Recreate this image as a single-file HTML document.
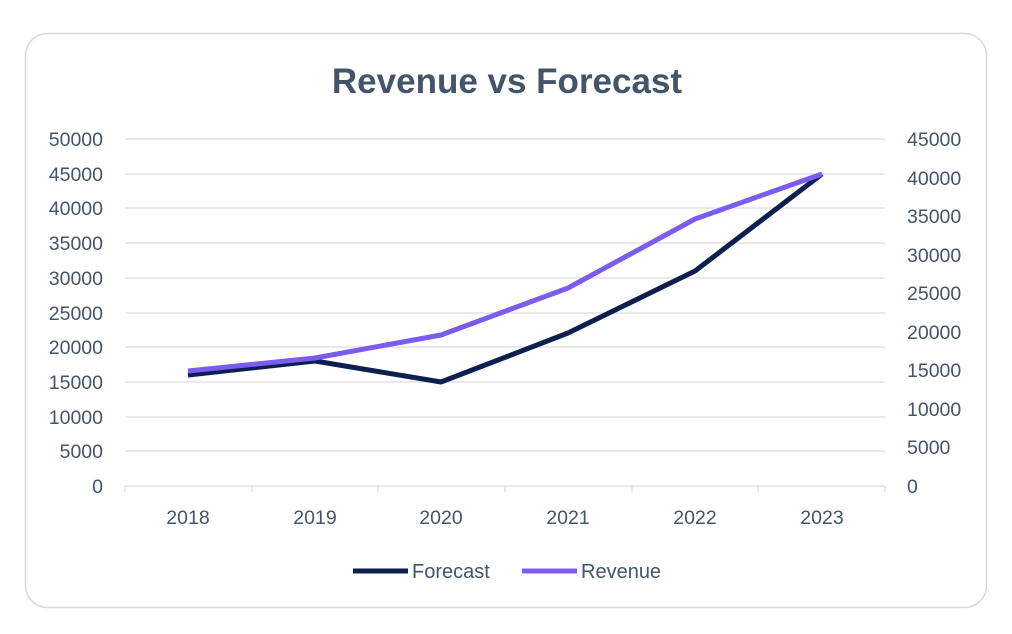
<!DOCTYPE html>
<html><head><meta charset="utf-8"><style>
body{margin:0;background:#fff;}
svg{display:block;font-family:"Liberation Sans",sans-serif;}
</style></head><body>
<svg width="1012" height="634" viewBox="0 0 1012 634" xmlns="http://www.w3.org/2000/svg">
<rect x="0" y="0" width="1012" height="634" fill="#fff"/>
<rect x="25.5" y="33.5" width="961" height="574" rx="22" fill="#fff" stroke="#d9d9d9" stroke-width="1.5"/>
<text x="507" y="93" text-anchor="middle" font-size="35" font-weight="bold" fill="#44546a">Revenue vs Forecast</text>
<g stroke="#d9d9e3" stroke-width="1.2">
<line x1="125" x2="885" y1="139" y2="139"/><line x1="125" x2="885" y1="174" y2="174"/>
<line x1="125" x2="885" y1="208" y2="208"/><line x1="125" x2="885" y1="243" y2="243"/>
<line x1="125" x2="885" y1="278" y2="278"/><line x1="125" x2="885" y1="313" y2="313"/>
<line x1="125" x2="885" y1="347" y2="347"/><line x1="125" x2="885" y1="382" y2="382"/>
<line x1="125" x2="885" y1="417" y2="417"/><line x1="125" x2="885" y1="451" y2="451"/>
<line x1="125" x2="885" y1="486" y2="486"/>
<line x1="125" x2="125" y1="486" y2="492"/><line x1="252" x2="252" y1="486" y2="492"/>
<line x1="378" x2="378" y1="486" y2="492"/><line x1="505" x2="505" y1="486" y2="492"/>
<line x1="632" x2="632" y1="486" y2="492"/><line x1="758" x2="758" y1="486" y2="492"/>
<line x1="885" x2="885" y1="486" y2="492"/>
</g>
<g font-size="19.5" fill="#44546a" text-anchor="end">
<text x="103" y="146">50000</text><text x="103" y="181">45000</text><text x="103" y="215">40000</text>
<text x="103" y="250">35000</text><text x="103" y="285">30000</text><text x="103" y="320">25000</text>
<text x="103" y="354">20000</text><text x="103" y="389">15000</text><text x="103" y="424">10000</text>
<text x="103" y="458">5000</text><text x="103" y="493">0</text>
</g>
<g font-size="19.5" fill="#44546a" text-anchor="start">
<text x="907" y="146">45000</text><text x="907" y="185">40000</text><text x="907" y="223">35000</text>
<text x="907" y="262">30000</text><text x="907" y="300">25000</text><text x="907" y="339">20000</text>
<text x="907" y="377">15000</text><text x="907" y="416">10000</text><text x="907" y="454">5000</text>
<text x="907" y="493">0</text>
</g>
<g font-size="19.5" fill="#44546a" text-anchor="middle">
<text x="188" y="524">2018</text><text x="315" y="524">2019</text><text x="441" y="524">2020</text>
<text x="568" y="524">2021</text><text x="695" y="524">2022</text><text x="822" y="524">2023</text>
</g>
<polyline fill="none" stroke="#0d1f4f" stroke-width="5" stroke-linejoin="round" points="188,375 315,361 441,382 568,333 695,271 822,174"/>
<polyline fill="none" stroke="#7b5cf0" stroke-width="5" stroke-linejoin="round" points="188,371 315,358 441,335 568,288 695,219 822,174"/>
<line x1="353" x2="408" y1="571" y2="571" stroke="#0d1f4f" stroke-width="5"/>
<text x="412" y="578" font-size="20" fill="#44546a">Forecast</text>
<line x1="522" x2="577" y1="571" y2="571" stroke="#7b5cf0" stroke-width="5"/>
<text x="581" y="578" font-size="20" fill="#44546a">Revenue</text>
</svg>
</body></html>
